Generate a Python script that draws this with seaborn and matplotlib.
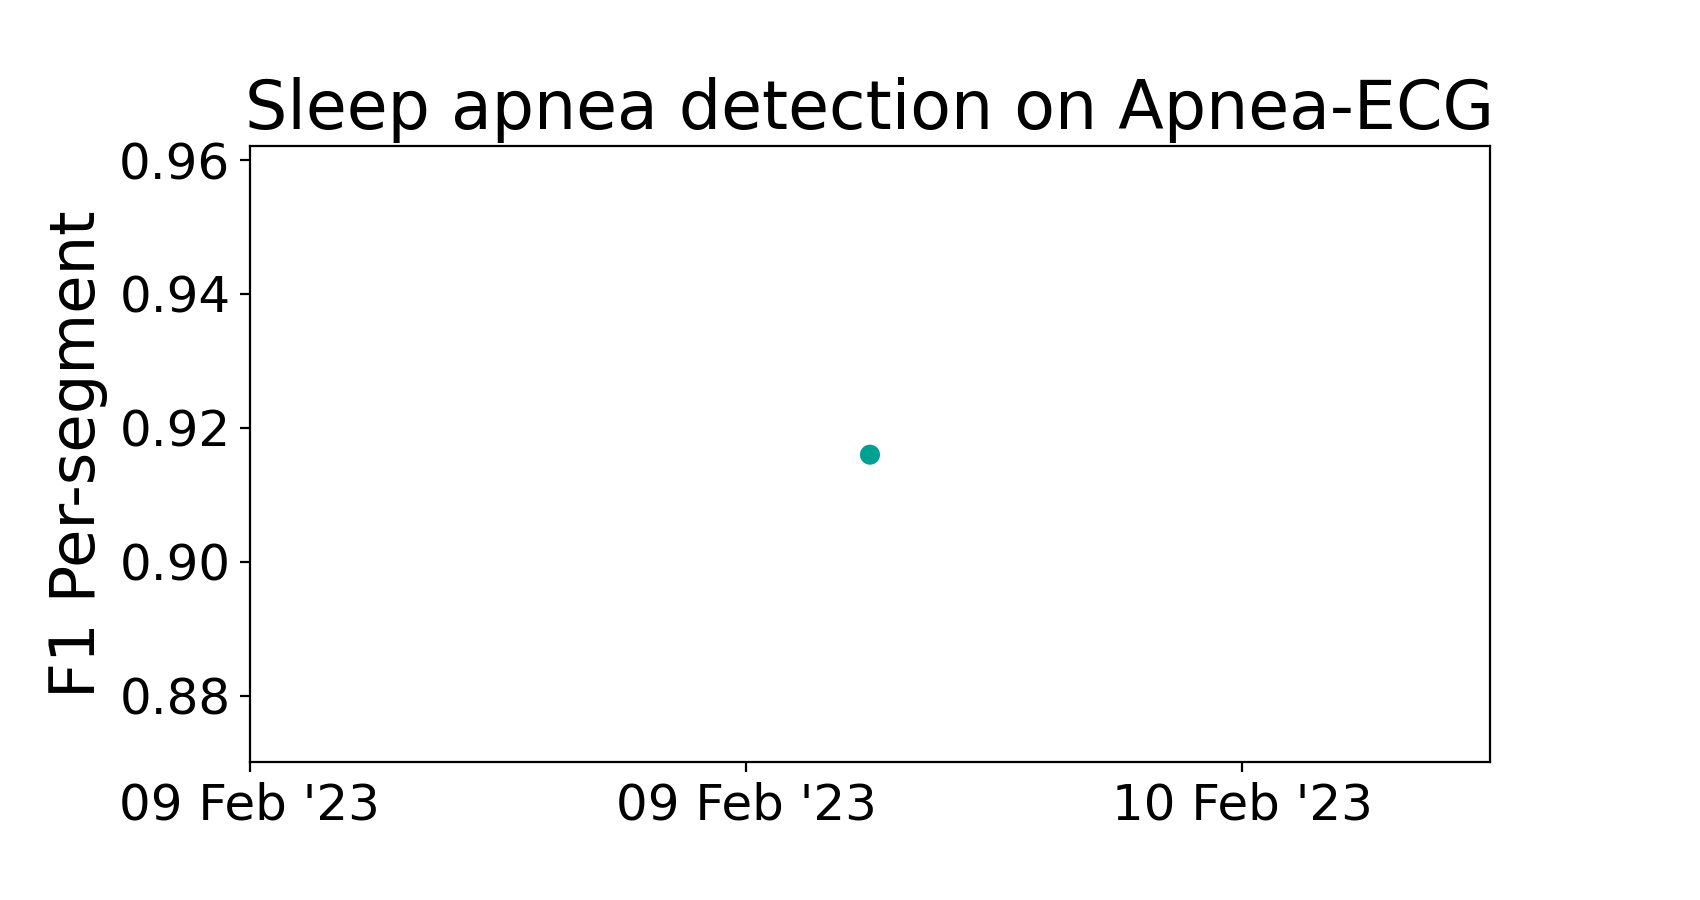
import numpy as np
import pandas as pd
import matplotlib
matplotlib.use("Agg")
import matplotlib.pyplot as plt
import matplotlib.dates as mdates
import seaborn as sns

# data
run_dates = ["2023-02-09 15:00"]
f1_per_segment = [0.916]

df = pd.DataFrame({"date": pd.to_datetime(run_dates), "f1": f1_per_segment})

plt.rcParams['font.family'] = ['DejaVu Sans']

fig, ax = plt.subplots(figsize=(8.5, 4.5), dpi=200)
fig.subplots_adjust(left=0.147, right=0.8765, bottom=0.1533, top=0.8378)

sns.scatterplot(data=df, x="date", y="f1", ax=ax, color="#00A092",
                s=52, edgecolor="none", legend=False)

ax.set_xlim(pd.Timestamp("2023-02-09 00:00"), pd.Timestamp("2023-02-10 06:00"))
ax.set_ylim(0.8701, 0.9621)
ax.xaxis.set_major_locator(mdates.HourLocator(byhour=[0, 12]))
ax.xaxis.set_major_formatter(mdates.DateFormatter("%d %b '%y"))
ax.set_yticks([0.88, 0.90, 0.92, 0.94, 0.96])

ax.set_title("Sleep apnea detection on Apnea-ECG", fontsize=24)
ax.set_ylabel("F1 Per-segment", fontsize=22.5)
ax.set_xlabel("")
ax.tick_params(labelsize=18)

plt.savefig("out.png", dpi=200)
